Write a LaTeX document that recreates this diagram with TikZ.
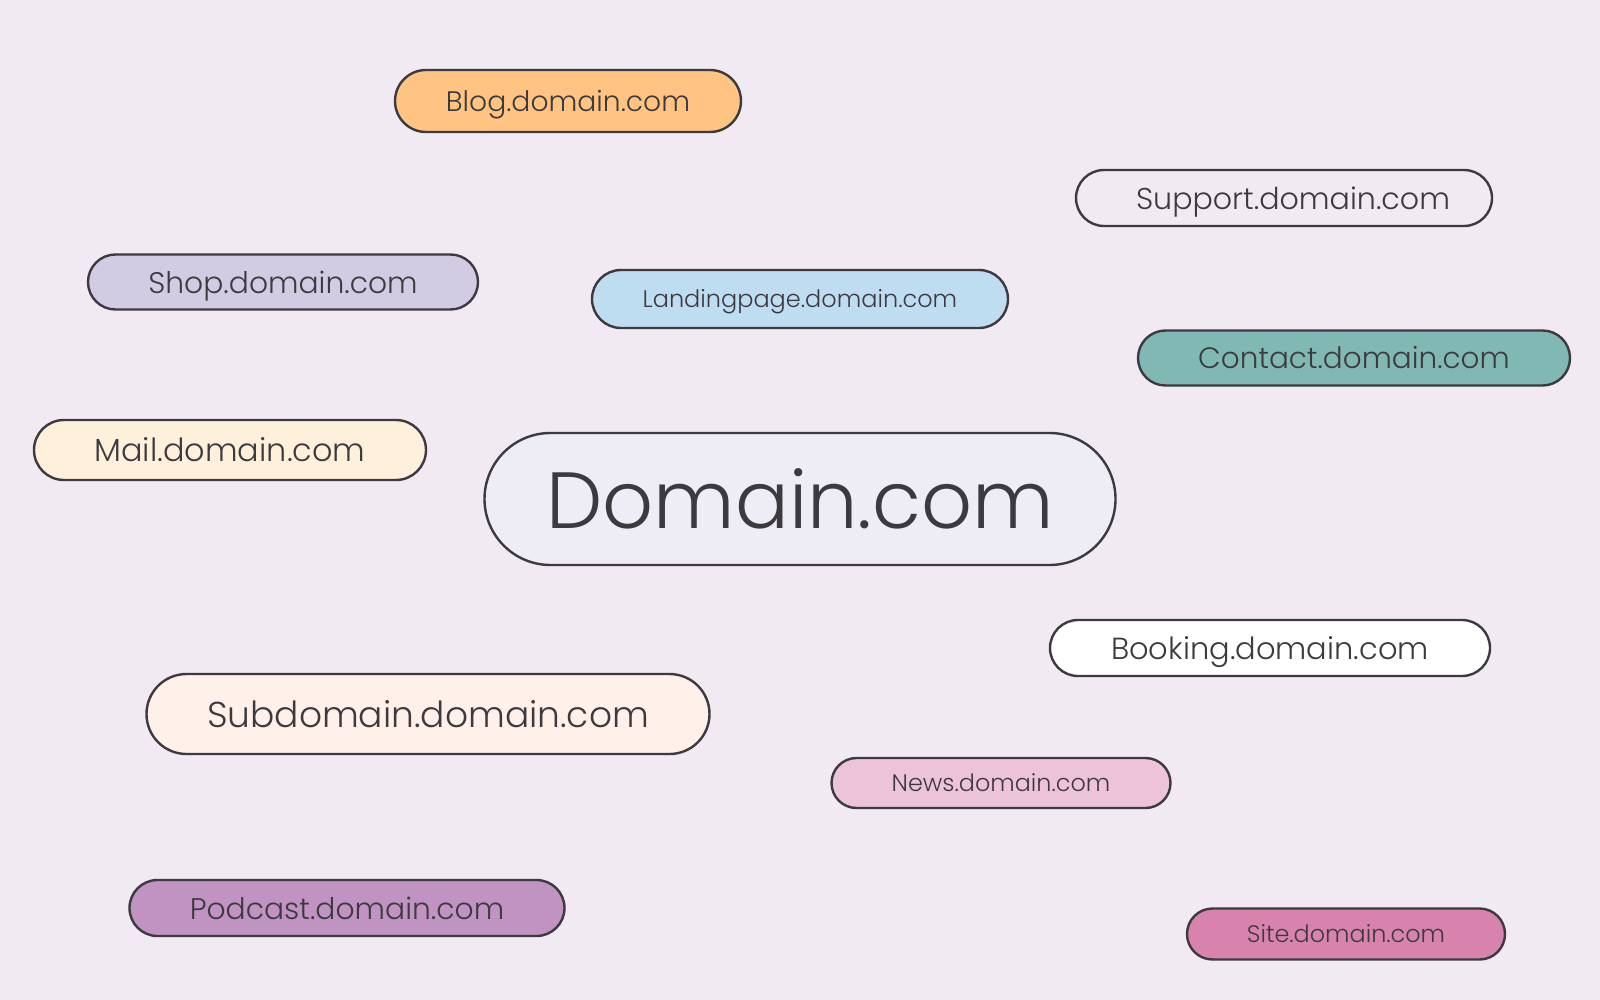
\documentclass[tikz,border=0pt]{standalone}
\usepackage{fontspec}
\setmainfont{Poppins}[UprightFont=* Light]
\usepackage{tikz}

\definecolor{bgcol}{HTML}{F1EAF2}
\definecolor{edgecol}{HTML}{3D3A3F}
\definecolor{textcol}{HTML}{3D3A3F}
\definecolor{blogcol}{HTML}{FFC482}
\definecolor{shopcol}{HTML}{D1CCE3}
\definecolor{landcol}{HTML}{BEDDF0}
\definecolor{contactcol}{HTML}{80B9B4}
\definecolor{mailcol}{HTML}{FFF0DC}
\definecolor{domaincol}{HTML}{EEECF5}
\definecolor{subcol}{HTML}{FFF0EA}
\definecolor{newscol}{HTML}{EDC3DA}
\definecolor{podcol}{HTML}{C193C2}
\definecolor{sitecol}{HTML}{D783AE}

\begin{document}
\begin{tikzpicture}[x=1pt, y=-1pt,
  every node/.style={draw=edgecol, line width=2.4pt, text=textcol, inner sep=0pt, outer sep=0pt},
  pill/.style n args={3}{minimum width=#1pt, minimum height=#2pt, rounded corners=#2pt/2,
    font=\fontsize{#3}{#3}\selectfont, text height=0.74*#3pt, text depth=0pt}]
\fill[bgcol] (0,0) rectangle (1600,1000);
\useasboundingbox (0,0) rectangle (1600,1000);

\node[pill={346}{62}{28.2}, fill=blogcol] (blog) at (568,101) {Blog.domain.com};
\node[pill={416}{56}{30.1}] (support) at (1284,198) {\hspace{18pt}Support.domain.com};
\node[pill={390}{55}{29.8}, fill=shopcol] (shop) at (283,282) {Shop.domain.com};
\node[pill={416}{58}{24}, fill=landcol] (landing) at (800,299) {Landingpage.domain.com};
\node[pill={432}{55}{29.5}, fill=contactcol] (contact) at (1354,358) {Contact.domain.com};
\node[pill={392}{60}{31.9}, fill=mailcol] (mail) at (230,450) {Mail.domain.com};

\node[pill={631}{132}{79.7}, fill=domaincol] (domain) at (800,499) {Domain.com};

\node[pill={440}{56}{30.5}, fill=white] (booking) at (1270,648) {Booking.domain.com};
\node[pill={563}{80}{36}, fill=subcol] (subdomain) at (428,714) {Subdomain.domain.com};
\node[pill={339}{50}{23.9}, fill=newscol] (news) at (1001,783) {News.domain.com};
\node[pill={435}{56}{29.8}, fill=podcol] (podcast) at (347,908) {Podcast.domain.com};
\node[pill={318}{51}{23.9}, fill=sitecol] (site) at (1346,934) {Site.domain.com};
\end{tikzpicture}
\end{document}
